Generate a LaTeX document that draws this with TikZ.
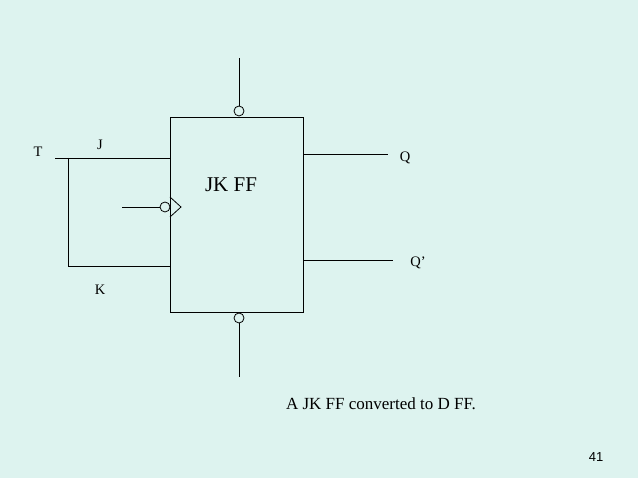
\documentclass[tikz,border=0pt]{standalone}
\usepackage{fontspec}
\setmainfont{Liberation Serif}
\newfontfamily\numfont{Liberation Sans}
\definecolor{bg}{HTML}{DDF3EF}
\begin{document}
\begin{tikzpicture}[x=1pt,y=-1pt,line width=0.8pt,
  lbl/.style={inner sep=0pt,font=\fontsize{14.5}{17}\selectfont},
  bub/.style={circle,draw,fill=bg,minimum size=10pt,inner sep=0pt}]
\fill[bg] (0,0) rectangle (638,478);
\useasboundingbox (0,0) rectangle (638,478);
\node[draw,minimum width=133pt,minimum height=195pt,inner sep=0pt] (ff) at (236.5,214.5) {};
\node[lbl,font=\fontsize{21}{24}\selectfont] (name) at (231,185) {JK FF};
\node[bub] (tb) at (239,111) {};
\node[bub] (bb) at (239,318) {};
\coordinate (tt) at (239,58);
\coordinate (bt) at (239,377);
\draw (tt) -- (tb.north);
\draw (bb.south) -- (bt);
\node[bub] (cb) at (165,207) {};
\coordinate (cs) at (122,207);
\draw (cs) -- (cb.west);
\draw (170,197) -- (181,207) -- (170,217);
\coordinate (jin) at (55,158);
\coordinate (jn) at (68,158);
\coordinate (kn) at (68,266);
\draw (jin) -- (170,158);
\draw (jn) -- (kn) -- (170,266);
\draw (303,154) -- (388,154);
\draw (303,260) -- (393,260);
\node[lbl] (t) at (38,152) {T};
\node[lbl] (j) at (100,145) {J};
\node[lbl] (k) at (100,290) {K};
\node[lbl] (q) at (405,158) {Q};
\node[lbl] (qb) at (418,263) {Q’};
\node[lbl,font=\fontsize{17}{20}\selectfont] (cap) at (381,404) {A JK FF converted to D FF.};
\node[lbl,font=\numfont\fontsize{13}{15}\selectfont] (num) at (596,457) {41};
\end{tikzpicture}
\end{document}
